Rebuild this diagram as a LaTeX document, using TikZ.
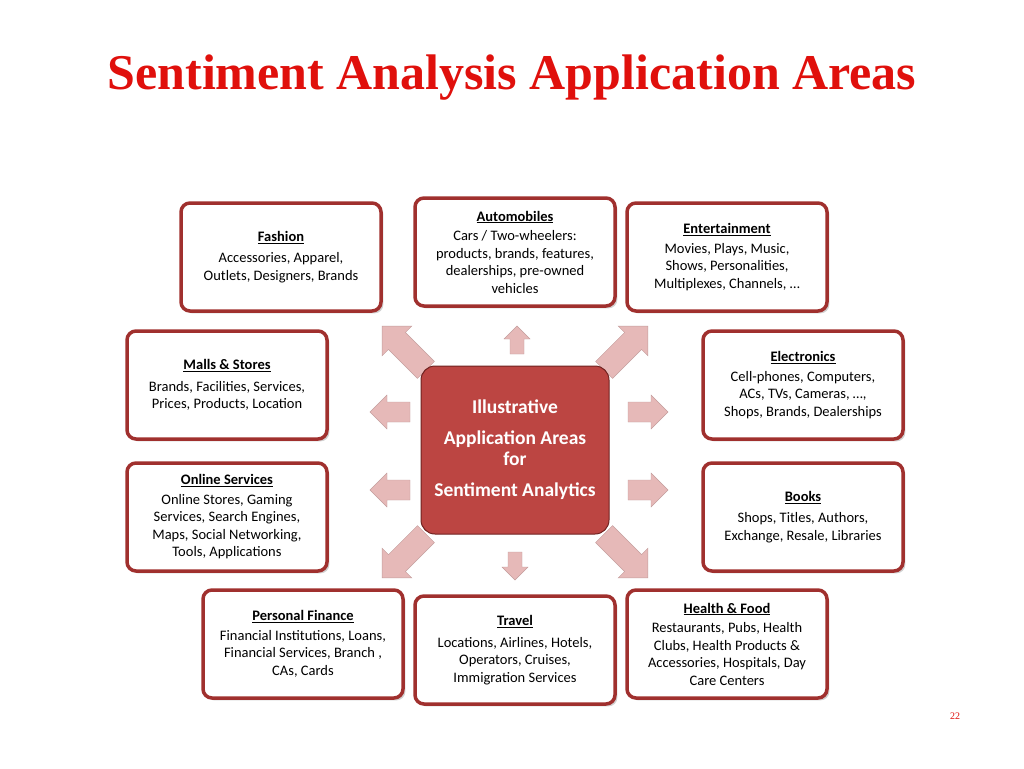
\documentclass[tikz,border=0pt]{standalone}
\usepackage{fontspec}
\setmainfont{Carlito}
\newfontfamily\titlefont{Liberation Serif}
\usetikzlibrary{shadows}
\definecolor{boxred}{HTML}{A0302E}
\definecolor{hubred}{HTML}{BC4542}
\definecolor{arrowpink}{HTML}{E6B9B8}
\definecolor{titlered}{HTML}{E0100C}
% block arrow: centre, angle, length, shaft half width, head half width
\newcommand\flowarrow[5]{%
  \begin{scope}[shift={#1}, rotate=#2]
    \filldraw[fill=arrowpink, draw=arrowpink!85!black]
      (-#3/2,-#4) -- (#3/2-#5,-#4) -- (#3/2-#5,-#5) -- (#3/2,0)
      -- (#3/2-#5,#5) -- (#3/2-#5,#4) -- (-#3/2,#4) -- cycle;
  \end{scope}}
\begin{document}
\begin{tikzpicture}[x=1pt,y=-1pt,
                area/.style={draw=boxred, line width=3.5pt, fill=white, rounded corners=9pt,
                  minimum width=200pt, minimum height=108pt, align=center,
                  font=\fontsize{14.5}{17.5}\selectfont, drop shadow={opacity=0.35}},
                hub/.style={draw=boxred!70!black, line width=1pt, fill=hubred, rounded corners=14pt,
                  minimum width=188pt, minimum height=168pt, align=center, text=white,
                  font=\fontsize{19.5}{31}\selectfont\bfseries},
                ]
            \useasboundingbox (0,0) rectangle (1024,768);
            \fill[white] (0,0) rectangle (1024,768);
            % Title
            \node[font=\titlefont\fontsize{50}{56}\selectfont\bfseries, text=titlered] (title) at (512,78) {Sentiment Analysis Application Areas};
            % Arrows
            \flowarrow{(517,340)}{90}{28}{7}{13}
            \flowarrow{(515,566)}{-90}{28}{7}{13}
            \flowarrow{(390,412)}{180}{40}{10}{17}
            \flowarrow{(390,490)}{180}{40}{10}{17}
            \flowarrow{(648,412)}{0}{40}{10}{17}
            \flowarrow{(648,490)}{0}{40}{10}{17}
            \flowarrow{(404,348)}{135}{62}{12}{21}
            \flowarrow{(626,348)}{45}{62}{12}{21}
            \flowarrow{(404,556)}{225}{62}{12}{21}
            \flowarrow{(626,556)}{-45}{62}{12}{21}
            % Hub
            \node[hub] (hub) at (515,450) {Illustrative\\Application Areas\\[-10pt]for\\Sentiment Analytics};
            % Areas
            \node[area] (fashion) at (281,257) {\textbf{\underline{Fashion}}\\[4pt]Accessories, Apparel,\\Outlets, Designers, Brands};
            \node[area] (auto) at (515,252) {\textbf{\underline{Automobiles}}\\[2pt]Cars / Two-wheelers:\\products, brands, features,\\dealerships, pre-owned\\vehicles};
            \node[area] (enter) at (727,257) {\textbf{\underline{Entertainment}}\\[2pt]Movies, Plays, Music,\\Shows, Personalities,\\Multiplexes, Channels, \dots};
            \node[area] (malls) at (227,385) {\textbf{\underline{Malls \& Stores}}\\[4pt]Brands, Facilities, Services,\\Prices, Products, Location};
            \node[area] (elec) at (803,385) {\textbf{\underline{Electronics}}\\[2pt]Cell-phones, Computers,\\ACs, TVs, Cameras, \dots,\\Shops, Brands, Dealerships};
            \node[area] (online) at (227,517) {\textbf{\underline{Online Services}}\\[2pt]Online Stores, Gaming\\Services, Search Engines,\\Maps, Social Networking,\\Tools, Applications};
            \node[area] (books) at (803,517) {\textbf{\underline{Books}}\\[4pt]Shops, Titles, Authors,\\Exchange, Resale, Libraries};
            \node[area] (finance) at (303,644) {\textbf{\underline{Personal Finance}}\\[2pt]Financial Institutions, Loans,\\Financial Services, Branch ,\\CAs, Cards};
            \node[area] (travel) at (515,650) {\textbf{\underline{Travel}}\\[4pt]Locations, Airlines, Hotels,\\Operators, Cruises,\\Immigration Services};
            \node[area] (health) at (727,644) {\textbf{\underline{Health \& Food}}\\[2pt]Restaurants, Pubs, Health\\Clubs, Health Products \&\\Accessories, Hospitals, Day\\Care Centers};
            % Page number
            \node[font=\titlefont\fontsize{10}{12}\selectfont, text=titlered] (page) at (955,716) {22};
\end{tikzpicture}
\end{document}
